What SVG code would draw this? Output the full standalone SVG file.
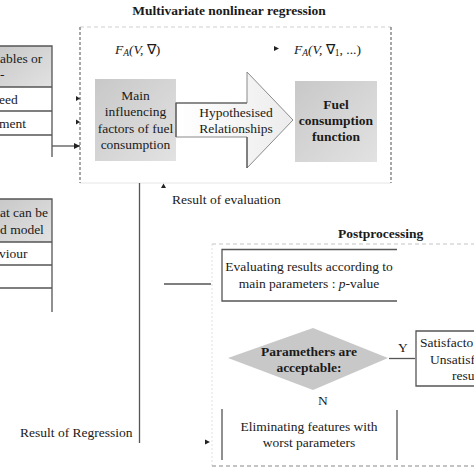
<svg xmlns="http://www.w3.org/2000/svg" width="474" height="474" viewBox="0 0 474 474">
<defs>
<linearGradient id="gbox" x1="0" y1="0" x2="1" y2="1">
<stop offset="0" stop-color="#c8c8c8"/>
<stop offset="1" stop-color="#e2e2e2"/>
</linearGradient>
<linearGradient id="garrow" x1="0" y1="0" x2="1" y2="0">
<stop offset="0" stop-color="#ffffff"/>
<stop offset="1" stop-color="#ececec"/>
</linearGradient>
<marker id="ah" viewBox="0 0 6 6" refX="6" refY="3" markerWidth="6" markerHeight="6" markerUnits="userSpaceOnUse" orient="auto">
<path d="M0,0 L6,3 L0,6 z" fill="#222"/>
</marker>
</defs>
<style>
text{font-family:"Liberation Serif","Times New Roman",serif;font-size:13.5px;fill:#1a1a1a}
.b{font-weight:bold}
.c{text-anchor:middle}
.i{font-style:italic}
.n{font-style:normal}
.ln{stroke:#555;stroke-width:1.3;fill:none}
.hd{fill:url(#gbox)}
.ah{fill:#222}
</style>
<rect width="474" height="474" fill="#ffffff"/>

<g id="title-regression"><text class="b c" x="229" y="15">Multivariate nonlinear regression</text></g>

<g id="regression-frame">
<line x1="80" y1="27" x2="391" y2="27" stroke="#cfcfcf" stroke-width="1" stroke-dasharray="4,3"/>
<line x1="80" y1="183" x2="391" y2="183" stroke="#e6e6e6" stroke-width="1"/>
<line x1="80" y1="27" x2="80" y2="183" stroke="#777" stroke-width="1.3" stroke-dasharray="3,2"/>
<line x1="391" y1="27" x2="391" y2="183" stroke="#777" stroke-width="1.3" stroke-dasharray="3,2"/>
</g>

<g id="table-variables">
<rect class="hd" x="-2" y="46" width="54" height="41"/>
<path class="ln" d="M0,46 H52 V157 M0,87 H52 M0,111 H52 M0,135 H52"/>
<text x="0" y="63">ables or</text>
<text x="0" y="79">-</text>
<text x="-1" y="104">eed</text>
<text x="-1" y="128">ment</text>
</g>

<g id="table-model">
<rect class="hd" x="-2" y="199" width="54" height="43"/>
<path class="ln" d="M0,199 H52 V312 M0,242 H52 M0,265 H52 M0,288 H52"/>
<text x="0" y="217">at can be</text>
<text x="0" y="234">d model</text>
<text x="-1" y="258">viour</text>
</g>

<g id="fa-labels">
<text class="i" x="115" y="54">F<tspan font-size="9.5" dy="2">A</tspan><tspan dy="-2">(V, </tspan><tspan class="n">∇</tspan><tspan class="n">)</tspan></text>
<text class="i" x="294" y="54">F<tspan font-size="9.5" dy="2">A</tspan><tspan dy="-2">(V, </tspan><tspan class="n">∇</tspan><tspan class="n" font-size="9.5" dy="2">1</tspan><tspan class="n" dy="-2">, ...)</tspan></text>
</g>

<g id="node-main-factors">
<rect class="hd" x="95" y="79" width="81" height="82"/>
<text class="c" x="135.5" y="100">Main</text>
<text class="c" x="135.5" y="116">influencing</text>
<text class="c" x="135.5" y="133">factors of fuel</text>
<text class="c" x="135.5" y="149">consumption</text>
</g>

<g id="node-hypothesised">
<polygon points="176,103 247,103 247,72 293,120 247,168 247,137 176,137" fill="url(#garrow)" stroke="#8a8a8a" stroke-width="1"/>
<path d="M176,137 V103 H247 M247,137 V168" stroke="#555" stroke-width="1.2" fill="none"/>
<text class="c" x="236" y="117">Hypothesised</text>
<text class="c" x="236" y="133">Relationships</text>
</g>

<g id="node-fuel-function">
<rect class="hd" x="295" y="81" width="82" height="81"/>
<text class="b c" x="336" y="109">Fuel</text>
<text class="b c" x="336" y="125">consumption</text>
<text class="b c" x="336" y="141">function</text>
</g>

<g id="labels">
<text x="172" y="204">Result of evaluation</text>
<text x="20" y="437">Result of Regression</text>
</g>

<g id="title-postprocessing"><text class="b" x="338" y="238">Postprocessing</text></g>

<g id="postprocessing-frame">
<line x1="212" y1="244" x2="474" y2="244" stroke="#c4c4c4" stroke-width="1" stroke-dasharray="4,3"/>
<line x1="212" y1="244" x2="212" y2="466" stroke="#e0e0e0" stroke-width="1" stroke-dasharray="2,2"/>
<line x1="212" y1="466" x2="474" y2="466" stroke="#888" stroke-width="1.2" stroke-dasharray="4,3"/>
</g>

<g id="node-evaluating">
<path class="ln" d="M397,249.5 H222 V301 H397"/>
<text class="c" x="309" y="271">Evaluating results according to</text>
<text class="c" x="309" y="288">main parameters : <tspan class="i">p</tspan>-value</text>
</g>

<g id="node-decision">
<polygon points="228,358 313,328 388,358 313,390" fill="#c8c8c8"/>
<text class="b c" x="309" y="356">Paramethers are</text>
<text class="b c" x="309" y="372">acceptable:</text>
</g>

<g id="node-result">
<path class="ln" d="M474,331 H416 V386 H474"/>
<text x="420" y="347">Satisfacto</text>
<text x="430" y="364">Unsatisf</text>
<text x="452" y="380">resu</text>
</g>

<g id="node-eliminating">
<path class="ln" d="M222,409 V460 M397,410 V460"/>
<text class="c" x="309" y="431">Eliminating features with</text>
<text class="c" x="309" y="447">worst parameters</text>
</g>

<g id="connectors">
<line class="ln" x1="52" y1="146" x2="80" y2="146" marker-end="url(#ah)"/>
<path class="ah" d="M76,96 L80,98.5 L76,101 z"/>
<path class="ah" d="M76,119.5 L80,122 L76,124.5 z"/>
<path class="ah" d="M274,46 L279,48.5 L274,51 z"/>
<line class="ln" x1="139.5" y1="183" x2="139.5" y2="443"/>
<path class="ah" d="M161,188 L163.5,183.5 L166,188 z"/>
<line class="ln" x1="164" y1="284" x2="211" y2="284"/>
<line class="ln" x1="389" y1="358.5" x2="415" y2="358.5"/>
<path class="ah" d="M205,439.5 L210,442 L205,444.5 z"/>
<text x="398" y="352">Y</text>
<text x="318" y="405">N</text>
</g>
</svg>
